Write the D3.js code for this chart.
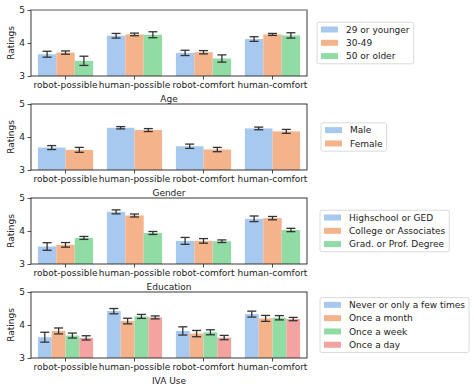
<!DOCTYPE html>
<html>
<head>
<meta charset="utf-8">
<script src="https://cdn.jsdelivr.net/npm/d3@7"></script>
<style>
  html, body { margin: 0; padding: 0; background: #fff; }
  svg { display: block; }
  text { font-family: "DejaVu Sans", sans-serif; fill: #222; }
</style>
</head>
<body>
<svg id="chart" width="474" height="384"></svg>
<script>
// ---------- DATA ----------
const categories = ["robot-possible", "human-possible", "robot-comfort", "human-comfort"];
const yTicks = [3, 4, 5];

const ageGroups = ["29 or younger", "30-49", "50 or older"];
const ageMeans = [[3.66, 4.22, 3.70, 4.12], [3.71, 4.26, 3.72, 4.26], [3.46, 4.25, 3.53, 4.23]];
const ageErrs  = [[0.09, 0.07, 0.08, 0.07], [0.05, 0.04, 0.05, 0.03], [0.14, 0.09, 0.11, 0.08]];

const genderGroups = ["Male", "Female"];
const genderMeans = [[3.68, 4.28, 3.72, 4.26], [3.61, 4.21, 3.62, 4.17]];
const genderErrs  = [[0.06, 0.035, 0.065, 0.04], [0.075, 0.045, 0.065, 0.06]];

const eduGroups = ["Highschool or GED", "College or Associates", "Grad. or Prof. Degree"];
const eduMeans = [[3.53, 4.58, 3.70, 4.37], [3.58, 4.47, 3.70, 4.39], [3.79, 3.94, 3.69, 4.03]];
const eduErrs  = [[0.115, 0.06, 0.105, 0.085], [0.07, 0.045, 0.07, 0.05], [0.045, 0.045, 0.04, 0.05]];

const ivaGroups = ["Never or only a few times", "Once a month", "Once a week", "Once a day"];
const ivaMeans = [[3.63, 4.42, 3.82, 4.33], [3.82, 4.12, 3.74, 4.20], [3.68, 4.26, 3.78, 4.22], [3.61, 4.23, 3.62, 4.18]];
const ivaErrs  = [[0.15, 0.08, 0.125, 0.09], [0.09, 0.085, 0.095, 0.09], [0.075, 0.06, 0.075, 0.065], [0.065, 0.045, 0.065, 0.05]];

const panelTitles = ["Age", "Gender", "Education", "IVA Use"];
const colors = ["#a7c8ef", "#f5b38c", "#91dca5", "#f3a3a0"];

// ---------- LAYOUT ----------
const panels = [
  { title: panelTitles[0], groups: ageGroups, means: ageMeans, errs: ageErrs, top: 10, legX: 317 },
  { title: panelTitles[1], groups: genderGroups, means: genderMeans, errs: genderErrs, top: 104, legX: 321 },
  { title: panelTitles[2], groups: eduGroups, means: eduMeans, errs: eduErrs, top: 198, legX: 320 },
  { title: panelTitles[3], groups: ivaGroups, means: ivaMeans, errs: ivaErrs, top: 292, legX: 320 }
];
const left = 31, right = 307, ph = 66;
const FS = 9;

const svg = d3.select("#chart");

const x0 = d3.scaleBand().domain(categories).range([left, right]).paddingInner(0.2).paddingOuter(0.1);

panels.forEach((p, pi) => {
  const g = svg.append("g");
  const y = d3.scaleLinear().domain([3, 5]).range([p.top + ph, p.top]);
  const x1 = d3.scaleBand().domain(d3.range(p.groups.length)).range([0, x0.bandwidth()]).padding(0);

  // bars
  p.groups.forEach((grp, gi) => {
    categories.forEach((c, ci) => {
      const v = p.means[gi][ci];
      const bx = x0(c) + x1(gi);
      g.append("rect")
        .attr("x", bx).attr("width", x1.bandwidth())
        .attr("y", y(v)).attr("height", y(3) - y(v))
        .attr("fill", colors[gi]);
    });
  });
  // error bars
  p.groups.forEach((grp, gi) => {
    categories.forEach((c, ci) => {
      const v = p.means[gi][ci], e = p.errs[gi][ci];
      const cx = x0(c) + x1(gi) + x1.bandwidth() / 2;
      const capW = 4.5;
      const eg = g.append("g").attr("stroke", "#333").attr("stroke-width", 1.3).attr("fill", "none");
      eg.append("line").attr("x1", cx).attr("x2", cx).attr("y1", y(v + e)).attr("y2", y(v - e));
      eg.append("line").attr("x1", cx - capW).attr("x2", cx + capW).attr("y1", y(v + e)).attr("y2", y(v + e));
      eg.append("line").attr("x1", cx - capW).attr("x2", cx + capW).attr("y1", y(v - e)).attr("y2", y(v - e));
    });
  });

  // axes
  const yAxis = d3.axisLeft(y).tickValues(yTicks).tickFormat(d3.format("d")).tickSize(3.5).tickPadding(2.5);
  const ya = g.append("g").attr("transform", `translate(${left},0)`).call(yAxis);
  ya.select(".domain").remove();
  ya.selectAll("text").attr("font-size", FS).attr("font-family", "DejaVu Sans").attr("fill", "#222");
  ya.selectAll("line").attr("stroke", "#222").attr("stroke-width", 0.8);

  const xAxis = d3.axisBottom(x0).tickSize(3.5).tickPadding(2);
  const xa = g.append("g").attr("transform", `translate(0,${p.top + ph})`).call(xAxis);
  xa.select(".domain").remove();
  xa.selectAll("text").attr("font-size", FS).attr("font-family", "DejaVu Sans").attr("fill", "#222");
  xa.selectAll("line").attr("stroke", "#222").attr("stroke-width", 0.8);

  // frame
  g.append("rect").attr("x", left).attr("y", p.top).attr("width", right - left).attr("height", ph)
    .attr("fill", "none").attr("stroke", "#222").attr("stroke-width", 0.9);
  if (pi === 0) {
    g.append("line").attr("x1", left).attr("x2", right).attr("y1", p.top).attr("y2", p.top)
      .attr("stroke", "#bbb").attr("stroke-width", 1.1);
  }

  // labels
  g.append("text").attr("transform", `translate(13.5,${p.top + ph / 2}) rotate(-90)`)
    .attr("text-anchor", "middle").attr("font-size", FS).text("Ratings");
  g.append("text").attr("x", (left + right) / 2).attr("y", p.top + ph + 25.5)
    .attr("text-anchor", "middle").attr("font-size", FS).text(p.title);

  // legend
  const n = p.groups.length;
  const rowH = 13.3;
  const lh = (n - 1) * rowH + 15;
  const ly = p.top + ph / 2 - lh / 2;
  const lg = g.append("g");
  const box = lg.append("rect").attr("x", p.legX).attr("y", ly).attr("height", lh)
    .attr("rx", 2).attr("fill", "#fff").attr("stroke", "#d6d6d6").attr("stroke-width", 0.9);
  let maxW = 0;
  p.groups.forEach((grp, gi) => {
    const cy = ly + 7.3 + gi * rowH;
    lg.append("rect").attr("x", p.legX + 4).attr("y", cy - 3).attr("width", 17).attr("height", 6)
      .attr("fill", colors[gi]);
    const t = lg.append("text").attr("x", p.legX + 29).attr("y", cy + 3.2).attr("font-size", FS).text(grp);
    maxW = Math.max(maxW, t.node().getComputedTextLength());
  });
  box.attr("width", 29 + maxW + 4);
});
</script>
</body>
</html>
